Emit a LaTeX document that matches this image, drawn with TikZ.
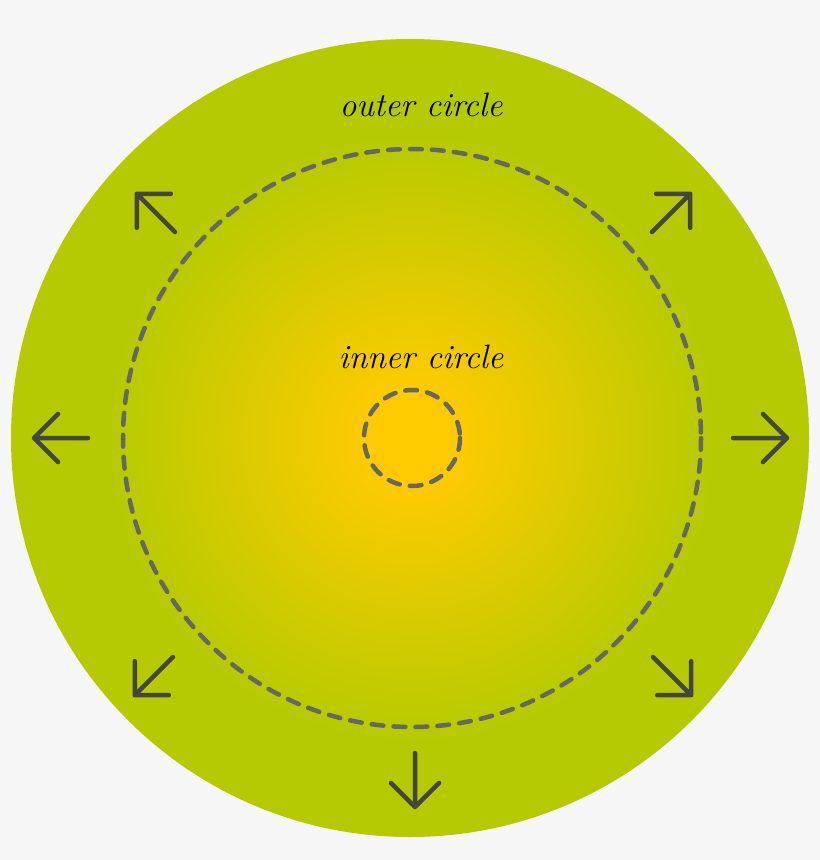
\documentclass[tikz,border=0pt]{standalone}
\usetikzlibrary{calc}
\definecolor{bgcol}{HTML}{F6F6F6}
\definecolor{ringgreen}{HTML}{B5CB00}
\definecolor{coreyellow}{HTML}{FFCB00}
\definecolor{arrowgray}{HTML}{444444}
\definecolor{dashgray}{HTML}{666666}
\pgfdeclareradialshading{glow}{\pgfpointorigin}{color(0bp)=(coreyellow); color(3bp)=(coreyellow); color(21bp)=(ringgreen); color(50bp)=(ringgreen)}
\tikzset{
 arrowline/.style={arrowgray, line width=3.2pt, line cap=round, line join=round},
 dashring/.style={dashgray, line width=3.2pt, line cap=round, dash pattern=on 8.4pt off 7.2pt},
 lbl/.style={font=\fontsize{24}{28}\selectfont\itshape, anchor=base, inner sep=0}
}
\begin{document}
\begin{tikzpicture}[x=0.025cm, y=-0.025cm]
\useasboundingbox (0,0) rectangle (820,860);
\fill[bgcol] (0,0) rectangle (820,860);
\coordinate (c) at (412,438);
\fill[ringgreen] (410,438) circle (399);
\shade[shading=glow] (c) circle (360);
\draw[dashring] (c) circle (289);
\draw[dashring] (c) circle (48);
\node[lbl] (outerlbl) at (421,117) {outer circle};
\node[lbl] (innerlbl) at (421,368) {inner circle};
\foreach \x/\y/\a in {88/438/180, 733/438/0, 415/753/90, 175/232/225, 652/232/315, 173/657/135, 653/657/45}
 \draw[arrowline] (\x,\y) --++(\a:54) coordinate (tip) --++({\a+135}:34) (tip) --++({\a-135}:34);
\end{tikzpicture}
\end{document}
